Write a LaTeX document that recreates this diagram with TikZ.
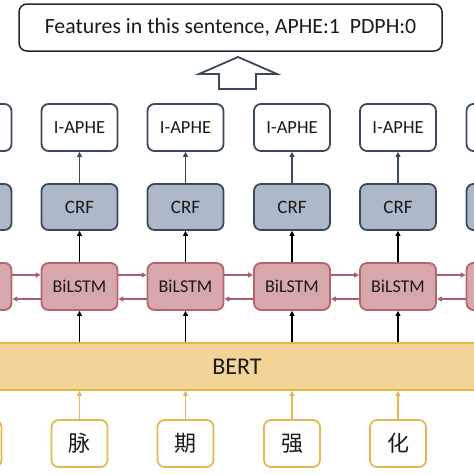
\documentclass[tikz,border=0pt]{standalone}
\usepackage{fontspec}
\setmainfont{Carlito}
\newfontfamily\cjk{Noto Sans CJK SC}
\usetikzlibrary{arrows.meta,calc}
\definecolor{crfFill}{HTML}{ADB9C8}
\definecolor{crfDraw}{HTML}{3B4A5A}
\definecolor{lstmFill}{HTML}{D8A7AB}
\definecolor{lstmDraw}{HTML}{B56570}
\definecolor{lstmArrow}{HTML}{A8606A}
\definecolor{bertFill}{HTML}{F2D596}
\definecolor{bertDraw}{HTML}{E2B54C}
\definecolor{charDraw}{HTML}{E3B852}
\definecolor{txt}{HTML}{1A1A1A}
\tikzset{
  tagbox/.style={draw=crfDraw, line width=1.8pt, rounded corners=7pt, fill=white,
    minimum width=76pt, minimum height=47pt, inner sep=0pt, text=txt, font=\fontsize{18.5}{20}\selectfont},
  crfbox/.style={draw=crfDraw, line width=1.8pt, rounded corners=7pt, fill=crfFill,
    minimum width=76pt, minimum height=46pt, inner sep=0pt, text=txt, font=\fontsize{19}{20}\selectfont},
  lstmbox/.style={draw=lstmDraw, line width=1.8pt, rounded corners=7pt, fill=lstmFill,
    minimum width=76pt, minimum height=47pt, inner sep=0pt, text=txt, font=\fontsize{18}{20}\selectfont},
  charbox/.style={draw=charDraw, line width=1.8pt, rounded corners=7pt, fill=white,
    minimum width=56pt, minimum height=47pt, inner sep=0pt, text=txt, font=\cjk\fontsize{22}{24}\selectfont},
  tip/.style={-{Triangle[length=5pt,width=5pt]}},
  uptag/.style={tip, draw=crfDraw, line width=1.1pt},
  upblack/.style={tip, draw=black, line width=1.3pt},
  upchar/.style={tip, draw=charDraw, line width=1.3pt},
  horiz/.style={tip, draw=lstmArrow, line width=1.3pt},
}
\begin{document}
\begin{tikzpicture}[x=1pt,y=-1pt]
\useasboundingbox (0,0) rectangle (474,474);
\clip (0,0) rectangle (474,474);
% top result box
\node[draw=black!85, line width=1.5pt, rounded corners=8pt, minimum width=423pt, minimum height=47pt,
  inner sep=0pt, text=txt, font=\fontsize{21.8}{24}\selectfont] (feat) at (230.5,27.5)
  {Features in this sentence, APHE:1\ \ PDPH:0};
% block arrow
\draw[draw=crfDraw, line width=1.8pt, line join=miter, fill=white]
  (238,57) -- (277,74) -- (256,74) -- (256,89) -- (219,89) -- (219,74) -- (199,74) -- cycle;
% BERT bar
\node[draw=bertDraw, fill=bertFill, line width=1.8pt, minimum width=480pt, minimum height=47pt,
  inner sep=0pt, text=txt, font=\fontsize{24}{26}\selectfont] (bert) at (237,366.5) {BERT};
% columns
\foreach \i/\x in {0/-26.5,5/504.5}{
  \node[tagbox] (t\i) at (\x,127.5) {};
  \node[crfbox] (c\i) at (\x,207) {};
  \node[lstmbox] (b\i) at (\x,286.5) {};
}
\node[charbox] (w0) at (-26.5,443.5) {};
\foreach \i/\x/\ch in {1/79.5/脉,2/185.5/期,3/292/强,4/398/化}{
  \node[tagbox] (t\i) at (\x,127.5) {I-APHE};
  \node[crfbox] (c\i) at (\x,207) {CRF};
  \node[lstmbox] (b\i) at (\x,286.5) {BiLSTM};
  \node[charbox] (w\i) at (\x,443.5) {\ch};
  \draw[uptag] (c\i.north) -- (t\i.south);
  \draw[upblack] (b\i.north) -- (c\i.south);
  \draw[upblack] (b\i.south |- bert.north) -- (b\i.south);
  \draw[upchar] (w\i.north) -- (w\i.north |- bert.south);
}
% horizontal BiLSTM links
\foreach \a/\b in {0/1,1/2,2/3,3/4,4/5}{
  \draw[horiz] ([yshift=11.5pt]b\a.east) -- ([yshift=11.5pt]b\b.west);
  \draw[horiz] ([yshift=-12.5pt]b\b.west) -- ([yshift=-12.5pt]b\a.east);
}
\end{tikzpicture}
\end{document}
